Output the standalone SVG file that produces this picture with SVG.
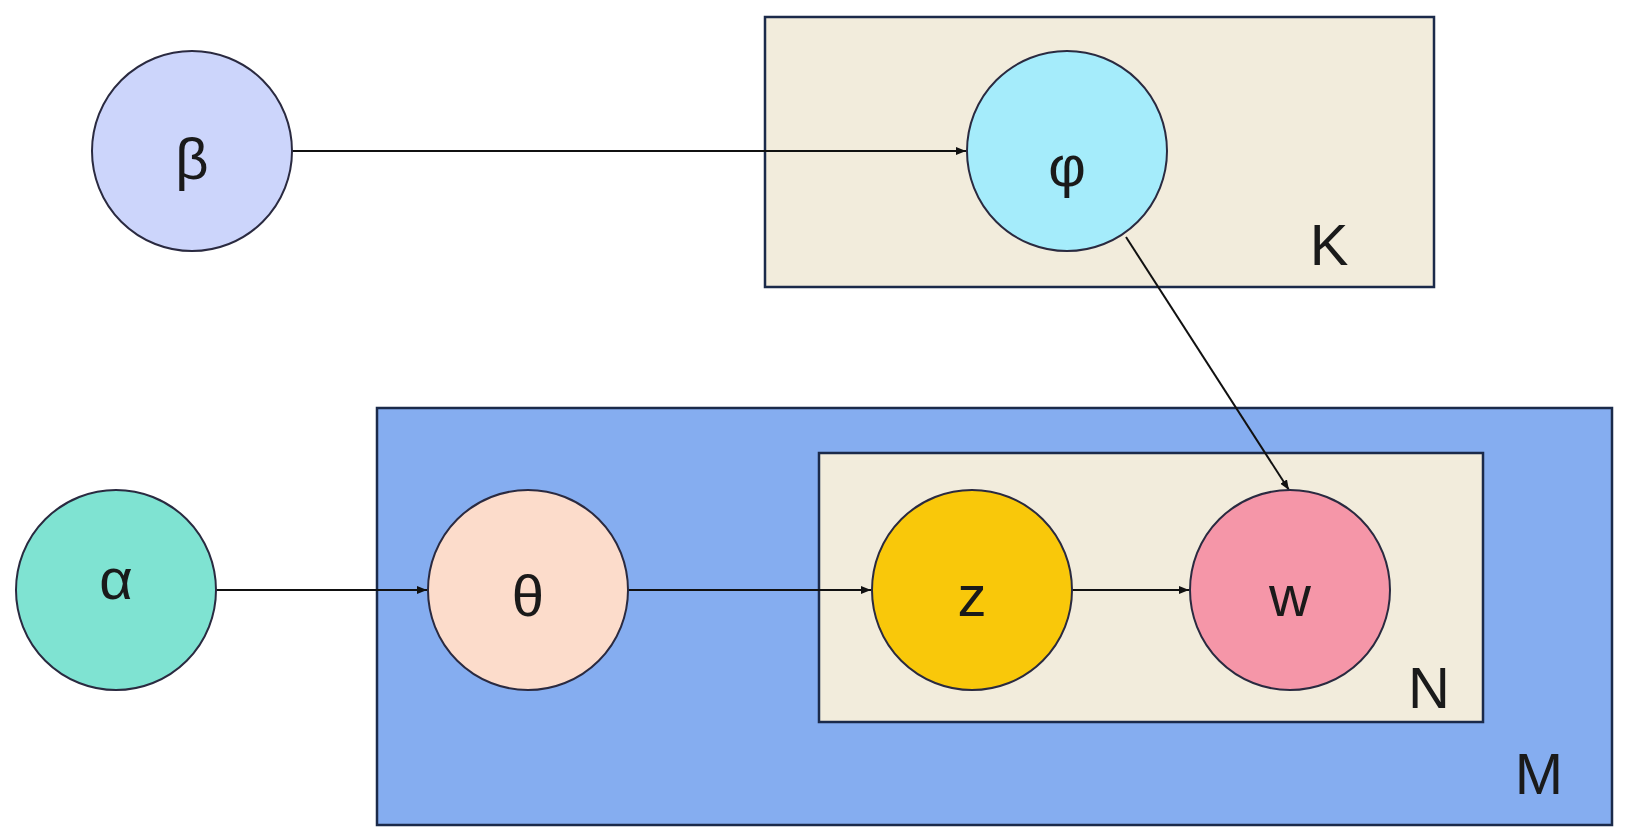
<svg xmlns="http://www.w3.org/2000/svg" width="1626" height="840" viewBox="0 0 1626 840">
<style>
.plate{stroke:#1b2a4a;stroke-width:2.5}
.node{stroke:#2a2a40;stroke-width:2}
.lbl{font-family:"Liberation Sans",Arial,sans-serif;font-size:58px;fill:#1a1a1a;text-anchor:middle;dominant-baseline:central}
.edge{stroke:#111;stroke-width:2;fill:none;marker-end:url(#ah)}
</style>
<defs><marker id="ah" markerWidth="10" markerHeight="8" refX="10" refY="4" orient="auto" markerUnits="userSpaceOnUse"><path d="M0,0 L10,4 L0,8 z" fill="#111"/></marker></defs>
<rect width="1626" height="840" fill="#fff"/>
<g id="plate-K"><rect class="plate" x="765" y="17" width="669" height="270" fill="#f2ecdc"/><text class="lbl" x="1329" y="244">K</text></g>
<g id="plate-M"><rect class="plate" x="377" y="408" width="1235" height="417" fill="#85adf0"/><text class="lbl" x="1539" y="773" fill="#0d1b3a">M</text></g>
<g id="plate-N"><rect class="plate" x="819" y="453" width="664" height="269" fill="#f2ecdc"/><text class="lbl" x="1429" y="687">N</text></g>
<g id="connectors">
<line class="edge" x1="292" y1="151" x2="966" y2="151"/>
<line class="edge" x1="1126" y1="237" x2="1289" y2="490"/>
<line class="edge" x1="216" y1="590" x2="427" y2="590"/>
<line class="edge" x1="628" y1="590" x2="871" y2="590"/>
<line class="edge" x1="1072" y1="590" x2="1189" y2="590"/>
</g>
<g id="node-beta"><circle class="node" cx="192" cy="151" r="100" fill="#ccd5fb"/><text class="lbl" x="192" y="158">β</text></g>
<g id="node-phi"><circle class="node" cx="1067" cy="151" r="100" fill="#a5ecfb"/><text class="lbl" x="1067" y="165">φ</text></g>
<g id="node-alpha"><circle class="node" cx="116" cy="590" r="100" fill="#7fe3d2"/><text class="lbl" x="116" y="578">α</text></g>
<g id="node-theta"><circle class="node" cx="528" cy="590" r="100" fill="#fcdccb"/><text class="lbl" x="528" y="595">θ</text></g>
<g id="node-z"><circle class="node" cx="972" cy="590" r="100" fill="#f9c80a"/><text class="lbl" x="972" y="595">z</text></g>
<g id="node-w"><circle class="node" cx="1290" cy="590" r="100" fill="#f596a8"/><text class="lbl" x="1290" y="595">w</text></g>
</svg>
